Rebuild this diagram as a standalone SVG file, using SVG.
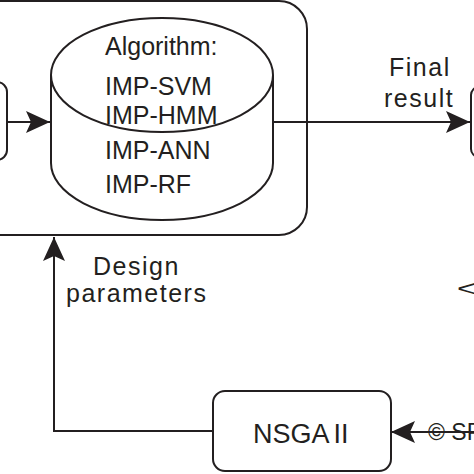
<svg xmlns="http://www.w3.org/2000/svg" width="474" height="474" viewBox="0 0 474 474">
<style>
.s{fill:none;stroke:#231f20;stroke-width:2}
.n{fill:#fff;stroke:#231f20;stroke-width:2}
.t{font-family:"Liberation Sans",Arial,sans-serif;fill:#231f20}
.alg{font-size:25px}
.lab{font-size:25px;letter-spacing:1.5px}
</style>
<defs>
<marker id="ah" viewBox="0 0 24 22" refX="24" refY="11" markerWidth="24" markerHeight="22" markerUnits="userSpaceOnUse" orient="auto">
<path d="M0,0 L24,11 L0,22 L5,11 Z" fill="#231f20"/>
</marker>
</defs>
<rect width="474" height="474" fill="#fff"/>
<g id="outer">
<rect class="s" x="-40" y="1" width="347" height="234" rx="28"/>
</g>
<g id="leftbox">
<rect class="n" x="-40" y="82" width="47" height="78" rx="10"/>
</g>
<g id="rightbox">
<rect class="n" x="471" y="87" width="40" height="70" rx="8"/>
</g>
<g id="cylinder">
<path class="n" d="M51,75 L51,163 A111,57 0 0 0 273,163 L273,75"/>
<ellipse class="n" cx="162" cy="75" rx="111" ry="57"/>
<text class="t alg" x="105" y="55">Algorithm:</text>
<text class="t alg" x="105" y="95">IMP-SVM</text>
<text class="t alg" x="105" y="124">IMP-HMM</text>
<text class="t alg" x="105" y="159">IMP-ANN</text>
<text class="t alg" x="105" y="193">IMP-RF</text>
</g>
<g id="nsga">
<rect class="n" x="213" y="391" width="178" height="80" rx="12"/>
<text class="t" x="253" y="443" font-size="27" word-spacing="-2">NSGA II</text>
</g>
<g id="connectors">
<line class="s" x1="7" y1="122" x2="50" y2="122" marker-end="url(#ah)"/>
<line class="s" x1="273" y1="122" x2="470" y2="122" marker-end="url(#ah)"/>
<polyline class="s" points="213,431 54,431 54,237" marker-end="url(#ah)"/>
<line class="s" x1="480" y1="432" x2="391" y2="432" marker-end="url(#ah)"/>
</g>
<g id="labels">
<text class="t lab" x="389" y="76">Final</text>
<text class="t lab" x="384" y="107">result</text>
<text class="t lab" x="93" y="275">Design</text>
<text class="t lab" x="66" y="302">parameters</text>
<text class="t" font-size="22" transform="translate(457,295.5) scale(1.5,1)">&lt;</text>
<text class="t" x="428" y="440" font-size="23">© SP</text>
</g>
</svg>
